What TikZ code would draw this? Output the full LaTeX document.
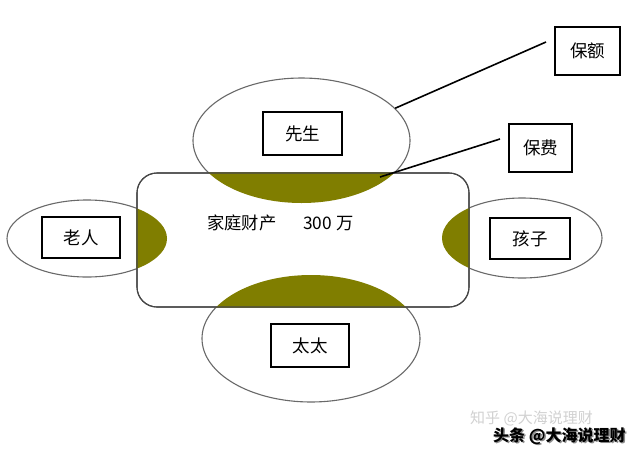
\documentclass[tikz,border=0pt]{standalone}
\usepackage{fontspec}
\newfontfamily\cjk{Noto Sans CJK SC}
\usetikzlibrary{shapes.geometric}
\definecolor{oliv}{RGB}{128,126,0}
\definecolor{ringgray}{RGB}{105,105,105}
\definecolor{rectgray}{RGB}{70,70,70}
\tikzset{
  ring/.style={ellipse, draw=ringgray, line width=1.1pt, fill=white, inner sep=0pt},
  labelbox/.style={draw=black, line width=1.7pt, fill=white, inner sep=0pt, font=\cjk\fontsize{17.5}{17.5}\selectfont},
  famrect/.style={draw=rectgray, line width=1.1pt, rounded corners=20pt, inner sep=0pt, minimum width=332pt, minimum height=134pt},
  leader/.style={draw=black, line width=1.6pt}
}
\begin{document}
\begin{tikzpicture}[x=1pt,y=-1pt]
\useasboundingbox[fill=white] (0,0) rectangle (640,453);
% rings
\node[ring, minimum width=217pt, minimum height=125pt] (xs) at (301.5,140.5) {};
\node[ring, minimum width=218pt, minimum height=127pt] (tt) at (311,338.5) {};
\node[ring, minimum width=160pt, minimum height=77pt] (lr) at (87,238.5) {};
\node[ring, minimum width=160pt, minimum height=80pt] (hz) at (522,238) {};
% family rectangle
\node[famrect, fill=white] (fam) at (303,240) {};
\begin{scope}
  \clip[rounded corners=20pt] (fam.south west) rectangle (fam.north east);
  \fill[oliv] (xs.center) ellipse [x radius=108.5, y radius=62.5];
  \fill[oliv] (tt.center) ellipse [x radius=109, y radius=63.5];
  \fill[oliv] (lr.center) ellipse [x radius=80, y radius=38.5];
  \fill[oliv] (hz.center) ellipse [x radius=80, y radius=40];
\end{scope}
\node[famrect] (famline) at (303,240) {};
% text in rectangle
\node[font=\cjk\fontsize{17.3}{17.5}\selectfont, anchor=west, inner sep=0pt] (asset) at (207,223) {家庭财产\hspace{27pt}300 万};
% label boxes
\node[labelbox, minimum width=79pt, minimum height=43pt] (bxs) at (302.5,133.5) {先生};
\node[labelbox, minimum width=78pt, minimum height=41pt] (blr) at (81,237.5) {老人};
\node[labelbox, minimum width=78pt, minimum height=43pt] (btt) at (310,345.5) {太太};
\node[labelbox, minimum width=80pt, minimum height=41pt] (bhz) at (530,238.5) {孩子};
\node[labelbox, minimum width=65pt, minimum height=48pt] (bbe) at (587.5,51) {保额};
\node[labelbox, minimum width=63pt, minimum height=48pt] (bbf) at (540.5,148) {保费};
% leaders
\coordinate (beEnd) at (546,42);
\coordinate (bfEnd) at (500,139);
\coordinate (bfStart) at (380,177);
\draw[leader] (xs.19) -- (beEnd);
\draw[leader] (bfStart) -- (bfEnd);
% watermarks
\node[font=\cjk\fontsize{15}{15}\selectfont, text=black!18, anchor=west, inner sep=0pt] (wm1) at (470,418) {知乎 @大海说理财};
\node[font=\cjk\bfseries\fontsize{16}{16}\selectfont, text=black!45, anchor=west, inner sep=0pt] (wm2s) at (494.5,437.5) {头条 @大海说理财};
\node[font=\cjk\bfseries\fontsize{16}{16}\selectfont, text=black, anchor=west, inner sep=0pt] (wm2) at (493,436) {头条 @大海说理财};
\end{tikzpicture}
\end{document}
